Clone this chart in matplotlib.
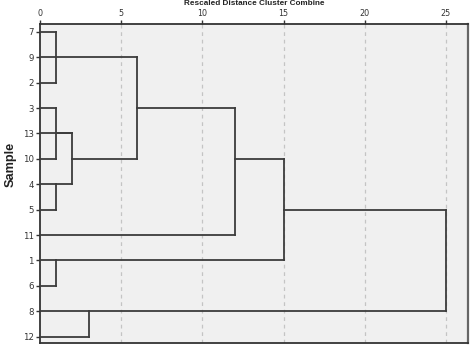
import numpy as np
from matplotlib import pyplot as plt

# Leaf order top to bottom
leaves = ["7", "9", "2", "3", "13", "10", "4", "5", "11", "1", "6", "8", "12"]

# Merge steps: (children, rescaled distance). Children are leaf labels
# or the index of an earlier merge.
merges = [
    (["7", "9", "2"], 1),
    (["3", "10"], 1),
    (["4", "5"], 1),
    ([1, "13", 2], 2),
    ([0, 3], 6),
    ([4, "11"], 12),
    (["1", "6"], 1),
    ([5, 6], 15),
    (["8", "12"], 3),
    ([7, 8], 25),
]

x_ticks = [0, 5, 10, 15, 20, 25]

line_color = "#3c3c3c"
fig = plt.figure(figsize=(4.74, 3.48), dpi=100)
ax = fig.add_axes([0.0844, 0.0144, 0.9026, 0.9166])
ax.set_facecolor("#f0f0f0")

# Row and height of every node
node_row = {}
node_dist = {}
for i, leaf in enumerate(leaves):
    node_row[leaf] = i
    node_dist[leaf] = 0

for k, (children, dist) in enumerate(merges):
    rows = [node_row[c] for c in children]
    lo, hi = min(rows), max(rows)
    for c in children:
        ax.plot([node_dist[c], dist], [node_row[c], node_row[c]],
                color=line_color, lw=1.3, solid_capstyle="projecting", zorder=3)
    ax.plot([dist, dist], [lo, hi], color=line_color, lw=1.3,
            solid_capstyle="projecting", zorder=3)
    node_row[k] = (lo + hi) // 2
    node_dist[k] = dist

ax.set_xlim(0, 26.35)
ax.set_ylim(12.25, -0.31)

ax.xaxis.tick_top()
ax.set_xticks(x_ticks)
ax.set_xticklabels([str(t) for t in x_ticks])
ax.set_yticks(np.arange(len(leaves)))
ax.set_yticklabels(leaves)
ax.tick_params(axis="both", direction="out", length=3, width=1,
               color="#333333", labelcolor="#333333", labelsize=6.2, pad=1.5)
ax.tick_params(axis="x", labelsize=5.8, pad=1.2)

for t in x_ticks[1:]:
    ax.axvline(t, color="#c4c4c4", lw=0.9, ls=(0, (3, 3)), zorder=1)

for side in ["top", "left", "bottom"]:
    ax.spines[side].set_color("#333333")
    ax.spines[side].set_linewidth(1.3)
ax.spines["right"].set_color("#666666")
ax.spines["right"].set_linewidth(1.6)

fig.text(0.536, 0.999, "Rescaled Distance Cluster Combine", ha="center", va="top",
         fontsize=5.9, fontweight="bold", family="Liberation Sans", color="#222222")
ax.set_ylabel("Sample", fontsize=9.2, fontweight="bold",
              family=["Liberation Sans Narrow", "Liberation Sans"], color="#222222")
ax.yaxis.set_label_coords(-0.054, 0.561)

fig.savefig("out.png", dpi=100)
